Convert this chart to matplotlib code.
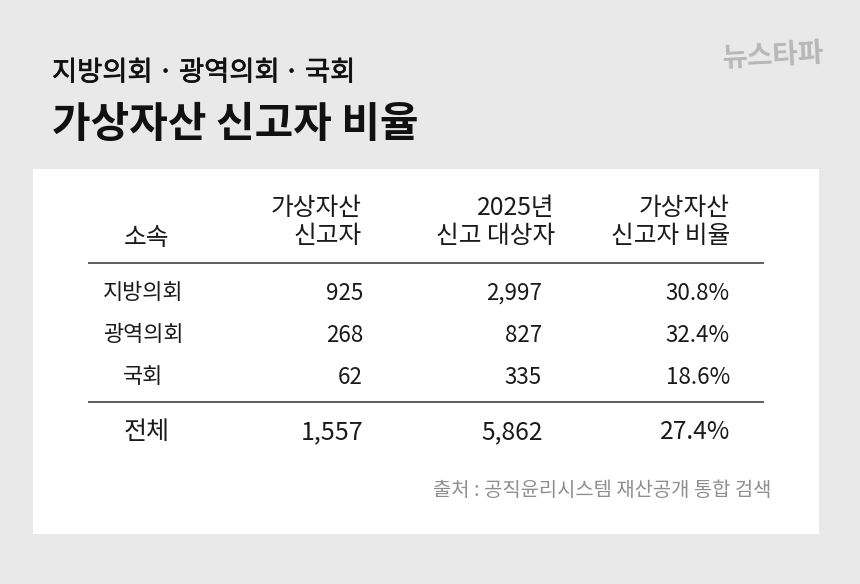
import matplotlib
matplotlib.use("Agg")
import matplotlib.pyplot as plt
import matplotlib.patheffects as pe
from matplotlib.patches import Rectangle

plt.rcParams["font.family"] = ["Noto Sans CJK KR", "DejaVu Sans"]

W, H = 860, 584

headers = ["소속", "가상자산\n신고자", "2025년\n신고 대상자", "가상자산\n신고자 비율"]
groups = ["지방의회", "광역의회", "국회"]
reporters = ["925", "268", "62"]
targets = ["2,997", "827", "335"]
ratios = ["30.8%", "32.4%", "18.6%"]
total = ["전체", "1,557", "5,862", "27.4%"]

subtitle = ["지방의회", "·", "광역의회", "·", "국회"]
title = "가상자산 신고자 비율"
source = "출처 : 공직윤리시스템 재산공개 통합 검색"
logo = "뉴스타파"

INK = "#1a1a1a"
row_y = [293, 335, 377]
sub_x = [52, 158, 179, 284, 305]

fig = plt.figure(figsize=(W / 100, H / 100), dpi=100, facecolor="#e9e9e9")
# pixel coordinates, same as the reference
ax = fig.add_axes([0, 0, 1, 1])
ax.set_xlim(0, W)
ax.set_ylim(H, 0)
ax.axis("off")

ax.add_patch(Rectangle((33, 169), 786, 365, facecolor="white", edgecolor="none"))

# the subtitle is a medium weight, the font only has regular and bold here
medium = [pe.withStroke(linewidth=0.5, foreground="#111111")]
for x, part in zip(sub_x, subtitle):
    ax.text(x, 73, part, fontsize=19.7, color="#111111", va="center", path_effects=medium)
ax.text(52, 125, title, fontsize=30.2, fontweight="bold", color="#111111", va="center")
ax.text(773, 56, logo, fontsize=20, fontweight="bold", color="#b8b8b8", va="center",
        ha="center", rotation=3, style="italic")

# header row
ax.text(147, 238, headers[0], fontsize=17.8, color=INK, ha="center", va="center")
ax.text(362, 222, headers[1], fontsize=17.8, color=INK, ha="right", va="center", linespacing=1.08)
ax.text(555, 222, headers[2], fontsize=17.8, color=INK, ha="right", va="center", linespacing=1.08)
ax.text(730, 222, headers[3], fontsize=17.8, color=INK, ha="right", va="center", linespacing=1.08)

ax.plot([88, 764], [263, 263], color="#333333", lw=1.1, solid_capstyle="butt")
ax.plot([88, 764], [402, 402], color="#333333", lw=1.1, solid_capstyle="butt")

for y, group, rep, tar, rat in zip(row_y, groups, reporters, targets, ratios):
    ax.text(143, y, group, fontsize=15.8, color=INK, ha="center", va="center")
    ax.text(363, y, rep, fontsize=16.1, color=INK, ha="right", va="center")
    ax.text(542, y, tar, fontsize=16.1, color=INK, ha="right", va="center")
    ax.text(730, y, rat, fontsize=16.1, color=INK, ha="right", va="center")

ax.text(147, 432, total[0], fontsize=18, color=INK, ha="center", va="center")
ax.text(363, 432, total[1], fontsize=18, color=INK, ha="right", va="center")
ax.text(542.5, 432, total[2], fontsize=17.7, color=INK, ha="right", va="center")
ax.text(730.5, 432, total[3], fontsize=17.7, color=INK, ha="right", va="center")

ax.text(771, 491, source, fontsize=14.3, color="#8f8f8f", ha="right", va="center")

fig.savefig("out.png", dpi=100, facecolor=fig.get_facecolor())
